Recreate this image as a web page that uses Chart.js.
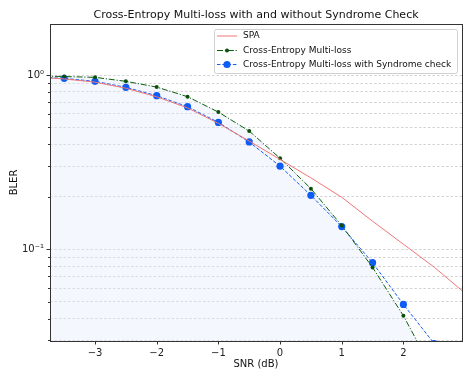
<!DOCTYPE html>
<html><head><meta charset="utf-8">
<script src="https://cdn.jsdelivr.net/npm/chart.js@4/dist/chart.umd.min.js"></script>
<style>html,body{margin:0;padding:0;background:#fff;}#wrap{width:474px;height:379px;}</style>
</head><body><div id="wrap"><canvas id="c" width="474" height="379"></canvas></div>
<script>
const titleText = "Cross-Entropy Multi-loss with and without Syndrome Check";
const xTitle = "SNR (dB)";
const yTitle = "BLER";
const seriesNames = ["SPA", "Cross-Entropy Multi-loss", "Cross-Entropy Multi-loss with Syndrome check"];
const spaSNR = [-4,-3.5,-3,-2.5,-2,-1.5,-1,-0.5,0,0.5,1,1.5,2,2.5,3];
const spaBLER = [0.975,0.95,0.91,0.84,0.75,0.648,0.528,0.418,0.328,0.257,0.199,0.145,0.107,0.079,0.056];
const ceSNR = [-4,-3.5,-3,-2.5,-2,-1.5,-1,-0.5,0,0.5,1,1.5,2,2.5];
const ceBLER = [0.99,0.98,0.97,0.92,0.853,0.751,0.613,0.477,0.333,0.223,0.137,0.0788,0.0416,0.0195];
const scSNR = [-4,-3.5,-3,-2.5,-2,-1.5,-1,-0.5,0,0.5,1,1.5,2,2.5];
const scBLER = [0.975,0.957,0.92,0.85,0.761,0.658,0.535,0.413,0.30,0.204,0.135,0.0838,0.0483,0.0288];
const xTicks = [-3,-2,-1,0,1,2];
const yTicks = [0.03,0.04,0.05,0.06,0.07,0.08,0.09,0.1,0.2,0.3,0.4,0.5,0.6,0.7,0.8,0.9,1];
const yMajorLabels = {1:"10\u2070", 0.1:"10\u207B\u00B9"};

const toPts = (xs, ys) => xs.map((x,i)=>({x:x, y:ys[i]}));
const FONT = "'DejaVu Sans', sans-serif";

const decor = {
  id:'decor',
  afterDraw(chart){
    const ctx = chart.ctx, a = chart.chartArea;
    ctx.save();
    ctx.strokeStyle = '#333'; ctx.lineWidth = 1; ctx.setLineDash([]);
    ctx.strokeRect(Math.round(a.left)+0.5, Math.round(a.top)+0.5, Math.round(a.right-a.left), Math.round(a.bottom-a.top));
    const ys = chart.scales.y, xs = chart.scales.x;
    ctx.beginPath();
    yTicks.forEach(v=>{
      const p = Math.round(ys.getPixelForValue(v))+0.5;
      const len = (v===1||v===0.1) ? 3.5 : 2;
      ctx.moveTo(a.left, p); ctx.lineTo(a.left-len, p);
    });
    xTicks.forEach(v=>{
      const p = Math.round(xs.getPixelForValue(v))+0.5;
      ctx.moveTo(p, a.bottom); ctx.lineTo(p, a.bottom+3.5);
    });
    ctx.stroke();
    ctx.fillStyle = '#111';
    ctx.font = "11px " + FONT;
    ctx.textAlign = 'center'; ctx.textBaseline = 'middle';
    ctx.fillText(titleText, (a.left+a.right)/2, 15);
    ctx.font = "10px " + FONT;
    ctx.fillText(xTitle, (a.left+a.right)/2, 364);
    ctx.save();
    ctx.translate(14, (a.top+a.bottom)/2);
    ctx.rotate(-Math.PI/2);
    ctx.fillText(yTitle, 0, 0);
    ctx.restore();
    const lx = 214, ly = 29, lw = 243, lh = 44;
    ctx.fillStyle = 'rgba(255,255,255,0.85)';
    ctx.strokeStyle = '#d0d0d0'; ctx.lineWidth = 1;
    ctx.beginPath();
    if (ctx.roundRect) ctx.roundRect(lx+0.5, ly+0.5, lw, lh, 2); else ctx.rect(lx+0.5, ly+0.5, lw, lh);
    ctx.fill(); ctx.stroke();
    const rows = [36, 50.5, 64.5];
    chart.data.datasets.forEach((ds,i)=>{
      const y = rows[i];
      ctx.save();
      ctx.strokeStyle = ds.borderColor; ctx.lineWidth = ds.borderWidth;
      ctx.setLineDash(ds.borderDash || []);
      ctx.beginPath(); ctx.moveTo(217, y); ctx.lineTo(237, y); ctx.stroke();
      ctx.setLineDash([]);
      if (ds.pointRadius > 0) {
        ctx.fillStyle = ds.pointBackgroundColor;
        ctx.beginPath(); ctx.arc(227, y, ds.pointRadius, 0, Math.PI*2); ctx.fill();
      }
      ctx.restore();
      ctx.fillStyle = '#111';
      ctx.font = "9px " + FONT;
      ctx.textAlign = 'left'; ctx.textBaseline = 'middle';
      ctx.fillText(ds.label, 243, y);
    });
    ctx.restore();
  }
};

new Chart(document.getElementById('c'), {
  type: 'scatter',
  data: {
    datasets: [
      { label: seriesNames[0], data: toPts(spaSNR, spaBLER), showLine: true,
        borderColor: '#ee7676', borderWidth: 1, pointRadius: 0, pointBackgroundColor:'#ee7676', fill: false, order: 0 },
      { label: seriesNames[1], data: toPts(ceSNR, ceBLER), showLine: true,
        borderColor: '#0b5e0b', borderWidth: 1, borderDash: [6,1.8,1.2,1.8],
        pointRadius: 2, pointBackgroundColor: '#0b4f0b', pointBorderWidth: 0,
        fill: 'start', backgroundColor: 'rgba(225,235,250,0.38)', order: 1 },
      { label: seriesNames[2], data: toPts(scSNR, scBLER), showLine: true,
        borderColor: '#1a5cf0', borderWidth: 1, borderDash: [3.5,1.8],
        pointRadius: 3.6, pointBackgroundColor: '#0f5cf5', pointBorderWidth: 0, fill: false, order: 2 }
    ]
  },
  options: {
    responsive: false, animation: false, devicePixelRatio: 1,
    layout: { padding: { top: 24, right: 12, left: 0, bottom: 0 } },
    plugins: { legend: { display: false }, title: { display: false }, tooltip: { enabled: false },
      filler: { drawTime: 'beforeDatasetsDraw' } },
    scales: {
      x: { type: 'linear', min: -3.73, max: 2.95,
        afterBuildTicks: s => { s.ticks = xTicks.map(v=>({value:v})); },
        afterFit: s => { s.height = 38; },
        grid: { display: false, drawTicks: false },
        border: { display: false },
        ticks: { autoSkip: false, maxRotation: 0, padding: 6, color: '#222', font: { family: FONT, size: 10 },
          callback: v => (v < 0 ? "\u2212" + Math.abs(v) : String(v)) } },
      y: { type: 'logarithmic', min: 0.0298, max: 1.962,
        afterBuildTicks: s => { s.ticks = yTicks.map(v=>({value:v})); },
        afterFit: s => { s.width = 50; },
        grid: { color: '#c8c8c8', lineWidth: 0.8, drawTicks: false },
        border: { display: false, dash: [2.5,2] },
        ticks: { autoSkip: false, padding: 6, color: '#222', font: { family: FONT, size: 10 },
          callback: v => (yMajorLabels[v] !== undefined ? yMajorLabels[v] : '') } }
    }
  },
  plugins: [decor]
});
</script></body></html>
